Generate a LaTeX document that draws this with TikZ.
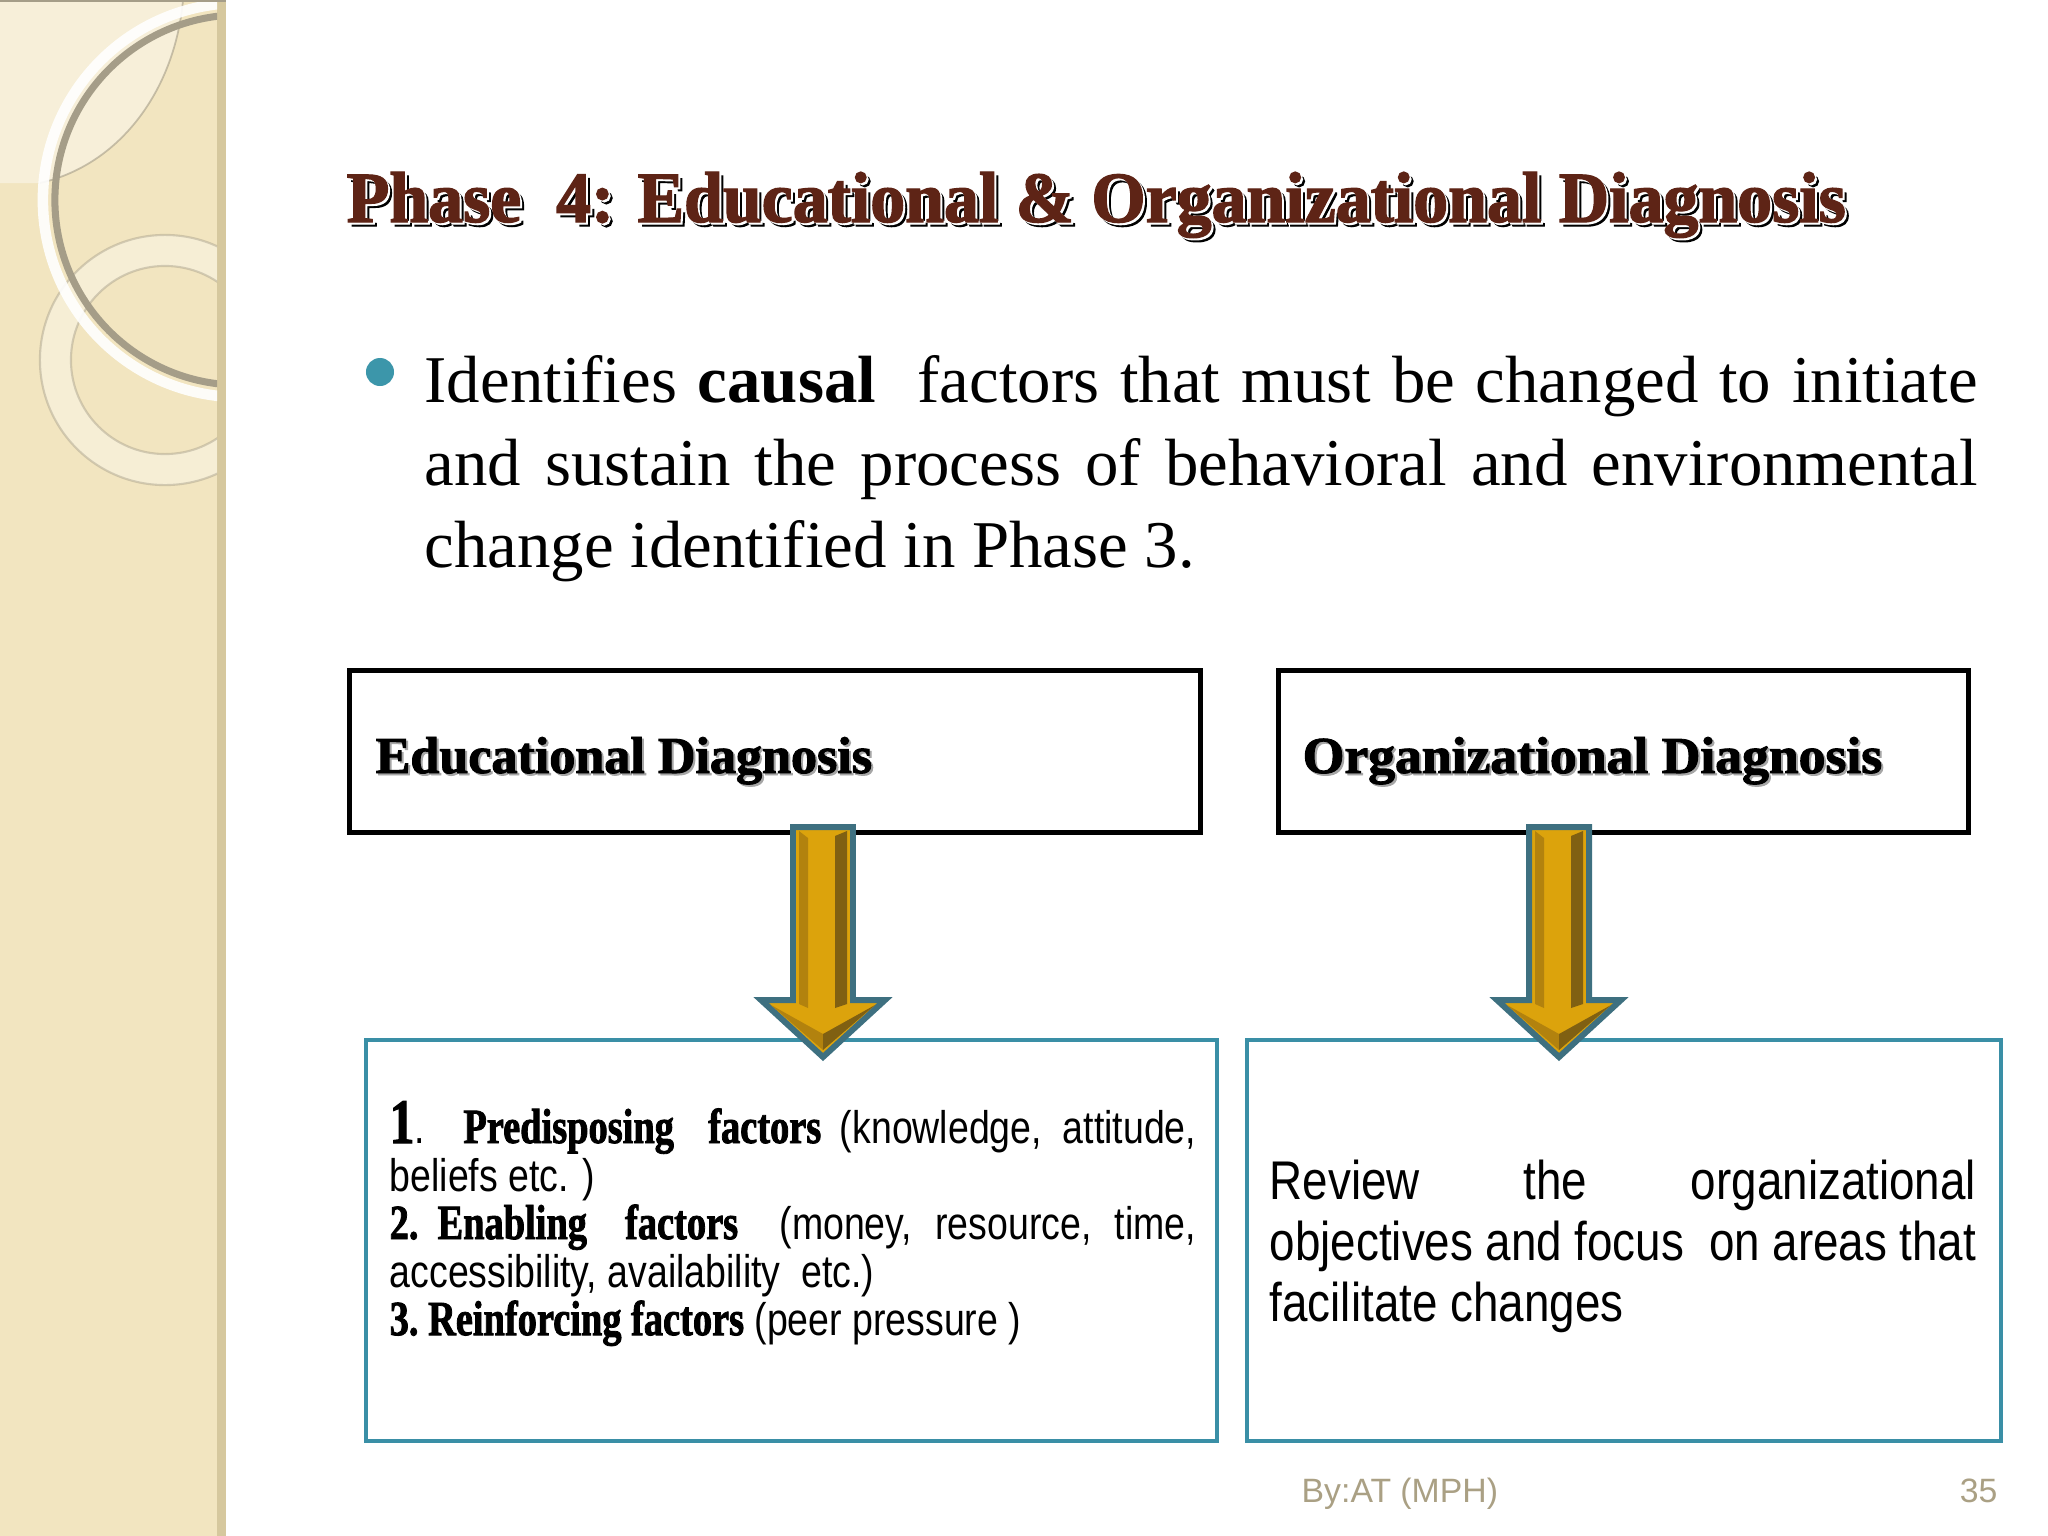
\documentclass[tikz,border=0pt]{standalone}
\usepackage{fontspec}
\setmainfont{Liberation Serif}
\newfontfamily\heavy[FakeStretch=0.78,BoldFeatures={FakeBold=1.6}]{Liberation Serif}
\newfontfamily\narrow[FakeStretch=0.82]{Liberation Sans}
\newfontfamily\narrowB[FakeStretch=0.84]{Liberation Sans}
\newfontfamily\footfont{Liberation Sans}
\usetikzlibrary{calc}
\definecolor{stripcol}{RGB}{242,229,192}
\definecolor{stripedge}{RGB}{214,200,158}
\definecolor{ringgray}{RGB}{165,157,136}
\definecolor{titlebrown}{RGB}{94,36,22}
\definecolor{boxteal}{RGB}{58,143,166}
\definecolor{bulletteal}{RGB}{60,150,170}
\definecolor{arrowedge}{RGB}{62,112,128}
\definecolor{goldfill}{RGB}{220,163,12}
\definecolor{goldmid}{RGB}{178,130,14}
\definecolor{golddark}{RGB}{128,96,18}
\definecolor{footgray}{RGB}{170,160,132}
\newcommand{\hb}[1]{{\heavy\bfseries\fontsize{14}{13.66}\selectfont #1}}
\newcommand{\blockarrow}[1]{%
  \begin{scope}[shift={(#1,0)}]
    \draw[arrowedge, line width=1.7pt, fill=goldfill, line join=miter]
      (-30,827) -- (30,827) -- (30,1000) -- (62,1000) -- (0,1057) -- (-62,1000) -- (-30,1000) -- cycle;
    \fill[golddark] (12,836) -- (24,831) -- (24,1004) -- (12,1008) -- cycle;
    \fill[goldmid] (-24,831) -- (-15,838) -- (-15,1008) -- (-24,1004) -- cycle;
    \fill[goldmid] (-52,1005) -- (0,1034) -- (0,1050) -- cycle;
    \fill[golddark] (52,1005) -- (0,1034) -- (0,1050) -- cycle;
  \end{scope}}
\begin{document}
\begin{tikzpicture}[x=0.01cm,y=-0.01cm,
  hdrbox/.style={draw=black, line width=1.42pt, fill=white, inner sep=0pt},
  lowbox/.style={draw=boxteal, line width=1.14pt, fill=white, inner sep=0pt},
  hdrtext/.style={anchor=base west, inner sep=0pt},
  bodytext/.style={anchor=base west, inner sep=0pt, align=justify}]
\useasboundingbox (0,0) rectangle (2048,1536);
\fill[white] (0,0) rectangle (2048,1536);
% left decorative strip
\fill[stripcol] (0,0) rectangle (226,1536);
\fill[stripedge] (217,0) rectangle (226,1536);
\begin{scope}
  \clip (0,0) rectangle (217,1536);
  \fill[white, opacity=0.4] (0,0) -- (183,0) .. controls (175,90) and (120,165) .. (40,183) -- (0,183) -- cycle;
  \draw[ringgray, line width=0.5pt, opacity=0.6] (183,0) .. controls (175,90) and (120,165) .. (40,183);
  \fill[white, opacity=0.35, even odd rule] (165,360) circle (1.25cm) (165,360) circle (0.94cm);
  \draw[ringgray, opacity=0.45, line width=0.6pt] (165,360) circle (1.25cm);
  \draw[ringgray, opacity=0.45, line width=0.6pt] (165,360) circle (0.94cm);
  \draw[white, line width=3pt, opacity=0.9] (240,200) circle (1.97cm);
  \draw[ringgray, line width=2pt] (240,200) circle (1.85cm);
\end{scope}
\draw[ringgray, line width=0.6pt] (0,1) -- (226,1);
% title
\node[hdrtext, text=black] (titleshadow) at (350,226) {\resizebox{14.98cm}{0.50cm}{\heavy\bfseries Phase\ \ 4: Educational \& Organizational Diagnosis}};
\node[hdrtext, text=white] (titlegap) at (348,224) {\resizebox{14.98cm}{0.50cm}{\heavy\bfseries Phase\ \ 4: Educational \& Organizational Diagnosis}};
\node[hdrtext, text=titlebrown] (title) at (346,222) {\resizebox{14.98cm}{0.50cm}{\heavy\bfseries Phase\ \ 4: Educational \& Organizational Diagnosis}};
% bullet
\fill[bulletteal] (380,372) circle (0.14cm);
\node[bodytext, text width=15.52cm, font=\fontsize{19}{23.6}\selectfont] (bullet) at (424,402)
  {Identifies \textbf{causal}\ \ factors that must be changed to initiate\linebreak
   and sustain the process of behavioral and environmental\linebreak
   change identified in Phase 3.};
% header boxes
\node[hdrbox, minimum width=8.5cm, minimum height=1.61cm] (edbox) at (775,751.5) {};
\node[hdrbox, minimum width=6.89cm, minimum height=1.61cm] (orgbox) at (1623.5,751.5) {};
\node[hdrtext, text=black!35] (edshadow) at (377,775) {\resizebox{4.96cm}{0.36cm}{\heavy\bfseries Educational Diagnosis}};
\node[hdrtext] (edtitle) at (375,773) {\resizebox{4.96cm}{0.36cm}{\heavy\bfseries Educational Diagnosis}};
\node[hdrtext, text=black!35] (orgshadow) at (1304,775) {\resizebox{5.79cm}{0.36cm}{\heavy\bfseries Organizational Diagnosis}};
\node[hdrtext] (orgtitle) at (1302,773) {\resizebox{5.79cm}{0.36cm}{\heavy\bfseries Organizational Diagnosis}};
% lower boxes
\node[lowbox, minimum width=8.51cm, minimum height=4.01cm] (factbox) at (791.5,1240.5) {};
\node[lowbox, minimum width=7.54cm, minimum height=4.01cm] (revbox) at (1624,1240.5) {};
\node[bodytext, text width=8.06cm, font=\narrow\fontsize{13}{13.66}\selectfont] (facts) at (389,1143)
  {{\heavy\bfseries\fontsize{18}{13.66}\selectfont 1}. \hb{Predisposing\ \ factors} (knowledge, attitude,\linebreak
   beliefs etc. )\par
   \hb{2.\ Enabling\ \ factors}\ \ (money, resource, time,\linebreak
   accessibility, availability\ \ etc.)\par
   \hb{3.\ Reinforcing factors} (peer pressure )};
\node[bodytext, text width=7.06cm, font=\narrowB\fontsize{15.5}{17.4}\selectfont] (review) at (1269,1199)
  {Review the organizational\linebreak
   objectives and focus\ \ on areas that\linebreak
   facilitate changes};
% arrows
\blockarrow{823}
\blockarrow{1559}
% footer
\node[anchor=base west, inner sep=0pt, text=footgray, font=\footfont\fontsize{9.6}{11}\selectfont] (byline) at (1301,1502) {By:AT (MPH)};
\node[anchor=base east, inner sep=0pt, text=footgray, font=\footfont\fontsize{9.6}{11}\selectfont] (pagenum) at (1998,1502) {35};
\end{tikzpicture}
\end{document}
